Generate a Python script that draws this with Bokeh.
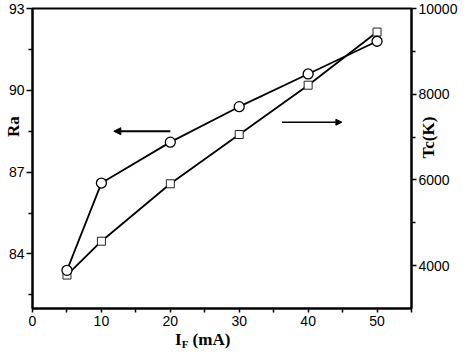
import math
from bokeh.plotting import figure
from bokeh.models import Range1d, LinearAxis, FixedTicker, Arrow, NormalHead, Div
from bokeh.layouts import column
from bokeh.embed import file_html
from bokeh.resources import INLINE

# ---- data ----
IF_mA = [5, 10, 20, 30, 40, 50]
Ra = [83.4, 86.6, 88.1, 89.4, 90.6, 91.8]
Tc_K = [3780, 4570, 5910, 7060, 8210, 9450]

x_ticks = [0, 10, 20, 30, 40, 50]
x_minor = [5, 15, 25, 35, 45, 55]
ra_ticks = [84, 87, 90, 93]
ra_minor = [82.5, 85.5, 88.5, 91.5]
tc_ticks = [4000, 6000, 8000, 10000]
tc_minor = [5000, 7000, 9000]

# arrow annotations (data coords): left arrow points to Ra axis, right to Tc axis
left_arrow = dict(x_start=20.0, x_end=11.8, y=88.5)
right_arrow = dict(x_start=36.2, x_end=44.9, y=88.83)

TICK_FONT = "Liberation Sans"
LABEL_FONT = "Liberation Serif"
NB = "\u00a0"

p = figure(width=458, height=332, x_range=Range1d(0, 55), y_range=Range1d(82, 93),
           output_backend="svg", toolbar_location=None,
           min_border_left=25, min_border_right=47, min_border_top=8, min_border_bottom=24)
p.extra_y_ranges = {"tc": Range1d(3000, 10000)}
p.xgrid.visible = False
p.ygrid.visible = False
p.outline_line_color = "black"
p.outline_line_width = 2
p.outline_line_alpha = 1
p.background_fill_color = "white"
p.border_fill_color = "white"

def style_axis(ax, out_major, out_minor, standoff):
    ax.axis_line_color = "black"
    ax.axis_line_width = 2
    ax.major_tick_line_color = "black"
    ax.major_tick_line_width = 1.5
    ax.minor_tick_line_color = "black"
    ax.minor_tick_line_width = 1.5
    ax.major_tick_in = 0
    ax.major_tick_out = out_major
    ax.minor_tick_in = 0
    ax.minor_tick_out = out_minor
    ax.major_label_text_font = TICK_FONT
    ax.major_label_text_font_size = "14px"
    ax.major_label_text_color = "black"
    ax.major_label_standoff = standoff
    ax.axis_label_text_font = LABEL_FONT
    ax.axis_label_text_font_style = "bold"
    ax.axis_label_text_font_size = "17px"
    ax.axis_label_text_color = "black"

p.xaxis.ticker = FixedTicker(ticks=x_ticks, minor_ticks=x_minor)
style_axis(p.xaxis[0], 4, 4, 3)
p.xaxis.axis_label = None
p.xaxis.axis_label_standoff = 0

p.yaxis.ticker = FixedTicker(ticks=ra_ticks, minor_ticks=ra_minor)
style_axis(p.yaxis[0], 6, 4, 2)
p.yaxis.axis_label = NB * 15 + "Ra"
p.yaxis.axis_label_standoff = -17

tc_axis = LinearAxis(y_range_name="tc", ticker=FixedTicker(ticks=tc_ticks, minor_ticks=tc_minor))
style_axis(tc_axis, 5, 4, 2)
tc_axis.axis_label = "Tc(K)"
tc_axis.axis_label_orientation = math.pi / 2
tc_axis.axis_label_standoff = -32
p.add_layout(tc_axis, "right")

# lines
p.line(IF_mA, Tc_K, y_range_name="tc", line_color="black", line_width=1.8)
p.line(IF_mA, Ra, line_color="black", line_width=1.8)
# markers
p.scatter(IF_mA, Tc_K, y_range_name="tc", marker="square", size=8,
          fill_color="white", line_color="#222222", line_width=1)
p.scatter(IF_mA, Ra, marker="circle", size=10,
          fill_color="white", line_color="black", line_width=1.3)

# arrows
p.add_layout(Arrow(end=NormalHead(size=7, fill_color="black", line_color="black"),
                   x_start=left_arrow["x_start"], y_start=left_arrow["y"],
                   x_end=left_arrow["x_end"], y_end=left_arrow["y"],
                   line_color="black", line_width=2))
p.add_layout(Arrow(end=NormalHead(size=6, fill_color="black", line_color="black"),
                   x_start=right_arrow["x_start"], y_start=right_arrow["y"],
                   x_end=right_arrow["x_end"], y_end=right_arrow["y"],
                   line_color="black", line_width=1.5))

xlabel = Div(
    text=('<div style="margin-left:175px; font-family:\'Liberation Serif\'; font-weight:bold; '
          'font-size:17px; line-height:16px; color:black; white-space:nowrap;">'
          'I<span style="font-size:11px; position:relative; top:3px;">F</span> (mA)</div>'),
    width=458, height=16, margin=0)

layout = column(p, xlabel, spacing=0)
open("out.html", "w").write(file_html(layout, INLINE))
